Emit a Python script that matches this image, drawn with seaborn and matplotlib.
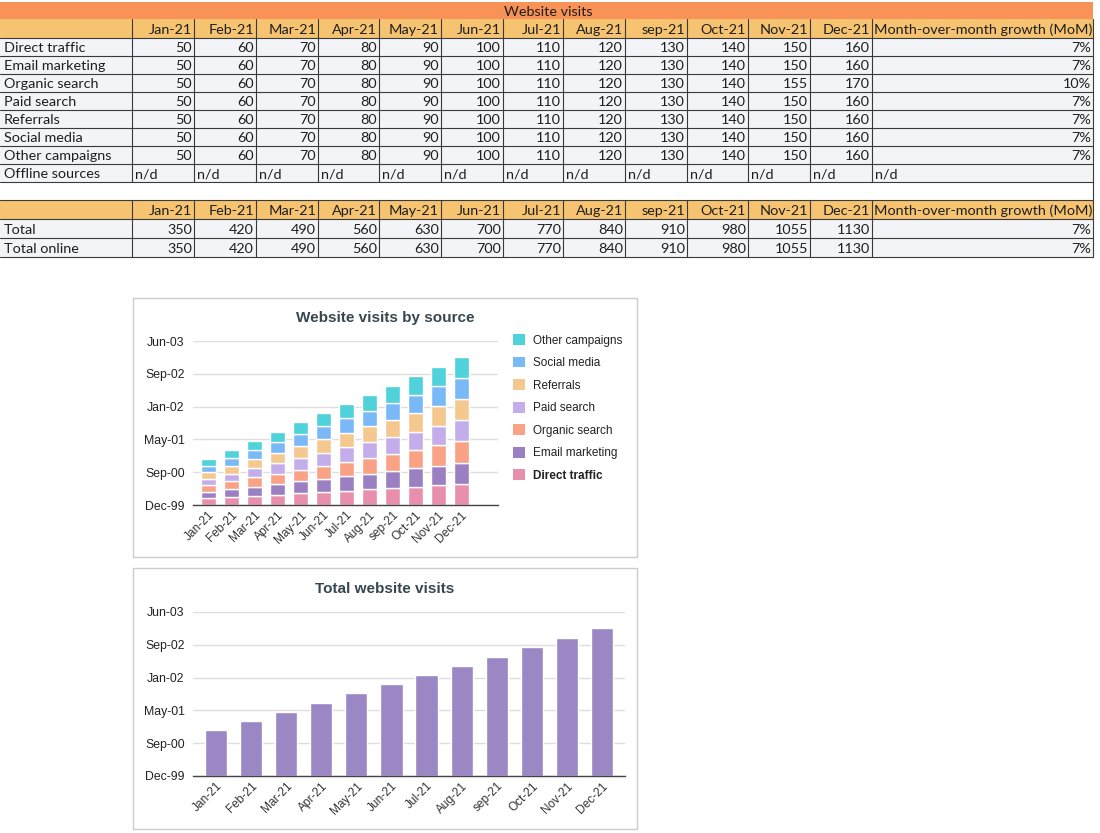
import datetime as dt
import numpy as np
import pandas as pd
import seaborn as sns
import matplotlib.pyplot as plt
from matplotlib.patches import Rectangle, Patch
from matplotlib.ticker import FuncFormatter, MultipleLocator

# Data
months = ["Jan-21", "Feb-21", "Mar-21", "Apr-21", "May-21", "Jun-21",
          "Jul-21", "Aug-21", "sep-21", "Oct-21", "Nov-21", "Dec-21"]
sources = ["Direct traffic", "Email marketing", "Organic search", "Paid search",
           "Referrals", "Social media", "Other campaigns"]
direct_traffic = [50, 60, 70, 80, 90, 100, 110, 120, 130, 140, 150, 160]
email_marketing = [50, 60, 70, 80, 90, 100, 110, 120, 130, 140, 150, 160]
organic_search = [50, 60, 70, 80, 90, 100, 110, 120, 130, 140, 155, 170]
paid_search = [50, 60, 70, 80, 90, 100, 110, 120, 130, 140, 150, 160]
referrals = [50, 60, 70, 80, 90, 100, 110, 120, 130, 140, 150, 160]
social_media = [50, 60, 70, 80, 90, 100, 110, 120, 130, 140, 150, 160]
other_campaigns = [50, 60, 70, 80, 90, 100, 110, 120, 130, 140, 150, 160]
mom_growth = ["7%", "7%", "10%", "7%", "7%", "7%", "7%"]
total = [350, 420, 490, 560, 630, 700, 770, 840, 910, 980, 1055, 1130]
total_online = [350, 420, 490, 560, 630, 700, 770, 840, 910, 980, 1055, 1130]
total_mom = ["7%", "7%"]
mom_header = "Month-over-month growth (MoM)"

source_values = [direct_traffic, email_marketing, organic_search, paid_search,
                 referrals, social_media, other_campaigns]
source_colors = ["#e98fae", "#9a80c3", "#f9a285", "#c4adeb",
                 "#f5c890", "#79b9f8", "#4fd2d9"]
total_color = "#9a87c4"

df = pd.DataFrame(dict(zip(sources, source_values)), index=months)

sns.set_style("white")
plt.rcParams["font.family"] = ["Liberation Sans", "DejaVu Sans"]

W, H = 1100, 833
fig = plt.figure(figsize=(11, 8.33), dpi=100)

# ---------- spreadsheet part, drawn in pixel coords ----------
tab = fig.add_axes([0, 0, 1, 1])
tab.set_xlim(0, W)
tab.set_ylim(H, 0)
tab.axis("off")

col_edges = [0, 132, 194, 256, 318, 379, 441, 503, 563, 625, 687, 748, 810, 872, 1093]
line_c = "#3a3a3a"
title_c = "#f99257"
head_c = "#f6c470"
row_c = "#f3f4f7"
tfont = dict(family="Lato", fontsize=10.4, color="#1e1e1e")


def fill(y0, y1, color, x0=0, x1=1093):
    tab.add_patch(Rectangle((x0, y0), x1 - x0, y1 - y0, facecolor=color,
                            edgecolor="none", zorder=1))


def hline(y, x0=0, x1=1093):
    tab.plot([x0, x1], [y, y], color=line_c, lw=0.8, zorder=3)


def vlines(y0, y1):
    for x in col_edges[1:]:
        tab.plot([x, x], [y0, y1], color=line_c, lw=0.8, zorder=3)


def header_row(y0, y1):
    fill(y0, y1, head_c)
    ym = (y0 + y1) / 2 + 1
    for i, m in enumerate(months):
        tab.text(col_edges[i + 2] - 2, ym, m, ha="right", va="center", **tfont)
    tab.text(col_edges[13] + 2, ym, mom_header, ha="left", va="center", **tfont)


def data_row(y0, y1, label, vals, mom):
    fill(y0, y1, row_c)
    ym = (y0 + y1) / 2 + 1
    tab.text(4, ym, label, ha="left", va="center", **tfont)
    for i, v in enumerate(vals):
        tab.text(col_edges[i + 2] - 2, ym, str(v), ha="right", va="center", **tfont)
    tab.text(col_edges[14] - 2, ym, mom, ha="right", va="center", **tfont)


# first table
fill(2, 19, title_c)
tab.text(548, 11.5, "Website visits", ha="center", va="center", **tfont)
header_row(19, 38)
row_h = 18
for k, (lab, vals, mom) in enumerate(zip(sources, source_values, mom_growth)):
    data_row(38 + k * row_h, 38 + (k + 1) * row_h, lab, vals, mom)
y_off = 38 + 7 * row_h
fill(y_off, y_off + row_h, row_c)
ym = y_off + row_h / 2 + 1
tab.text(4, ym, "Offline sources", ha="left", va="center", **tfont)
for i in range(13):
    tab.text(col_edges[i + 1] + 3, ym, "n/d", ha="left", va="center", **tfont)
for k in range(9):
    hline(38 + k * row_h)
vlines(19, y_off + row_h)

# second table
header_row(200, 219)
data_row(219, 238, "Total", total, total_mom[0])
data_row(238, 257, "Total online", total_online, total_mom[1])
for y in [200, 219, 238, 257]:
    hline(y)
vlines(200, 257)
tab.plot([1093, 1093], [182, 200], color=line_c, lw=0.8, zorder=3)

# chart frames
for (x0, y0, x1, y1) in [(133, 298, 637, 557), (133, 568, 637, 829)]:
    tab.add_patch(Rectangle((x0, y0), x1 - x0, y1 - y0, facecolor="white",
                            edgecolor="#cccccc", lw=1, zorder=1))


# ---------- charts ----------
def serial_label(v, pos):
    d = dt.date(1899, 12, 30) + dt.timedelta(days=int(round(v)))
    return d.strftime("%b-%y")


def style_chart(ax):
    ax.set_ylim(0, 1250)
    ax.yaxis.set_major_locator(MultipleLocator(250))
    ax.yaxis.set_major_formatter(FuncFormatter(serial_label))
    ax.grid(axis="y", color="#dedede", lw=1)
    ax.set_axisbelow(True)
    for s in ["top", "right", "left"]:
        ax.spines[s].set_visible(False)
    ax.spines["bottom"].set_color("#444444")
    ax.spines["bottom"].set_linewidth(1)
    ax.tick_params(axis="y", length=0, pad=6, labelsize=8.8, labelcolor="#222222")
    ax.tick_params(axis="x", length=0, pad=3, labelsize=8.6, labelcolor="#333333")
    for t in ax.get_xticklabels():
        t.set_rotation(45)
        t.set_ha("right")
        t.set_rotation_mode("anchor")
    ax.set_xlabel("")
    ax.set_ylabel("")
    ax.set_facecolor("none")


def fig_box(l, t, r, b):
    return [l / W, 1 - b / H, (r - l) / W, (b - t) / H]


# stacked chart
ax1 = fig.add_axes(fig_box(193, 341, 498, 505))
bottom = np.zeros(len(months))
for src, col in zip(sources, source_colors):
    vals = df[src].values
    sns.barplot(x=months, y=vals, color=col, saturation=1, width=0.65,
                bottom=bottom, errorbar=None, ax=ax1)
    bottom = bottom + vals
ax1.set_xlim(-0.67, 12.6)
style_chart(ax1)
fig.text(385 / W, 1 - 318 / H, "Website visits by source", ha="center", va="center",
         fontsize=11, fontweight="bold", color="#37474f")

handles = [Patch(facecolor=c, edgecolor="none") for c in source_colors][::-1]
leg = fig.legend(handles, sources[::-1], loc="upper left",
                 bbox_to_anchor=(513 / W, 1 - 334 / H), frameon=False,
                 fontsize=8.5, handlelength=1.05, handleheight=1.05,
                 handletextpad=0.65, labelspacing=0.85, borderpad=0, borderaxespad=0)
for t in leg.get_texts():
    t.set_color("#222222")
leg.get_texts()[-1].set_fontweight("bold")

# totals chart
ax2 = fig.add_axes(fig_box(193, 612, 625, 776))
sns.barplot(x=months, y=total, color=total_color, saturation=1, width=0.63,
            errorbar=None, ax=ax2)
ax2.set_xlim(-0.655, 11.655)
style_chart(ax2)
fig.text(385 / W, 1 - 589 / H, "Total website visits", ha="center", va="center",
         fontsize=11, fontweight="bold", color="#37474f")

fig.savefig("out.png", dpi=100)
